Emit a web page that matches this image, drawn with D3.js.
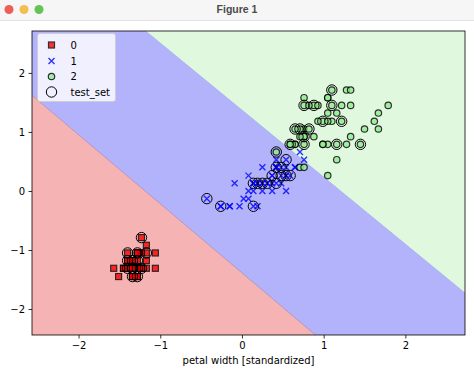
<!DOCTYPE html>
<html>
<head>
<meta charset="utf-8">
<script src="https://cdn.jsdelivr.net/npm/d3@7"></script>
<style>
  body { margin: 0; background: #fff; }
  text { font-family: "DejaVu Sans", sans-serif; }
</style>
</head>
<body>
<svg id="chart"></svg>
<script>
// standardized [x, y] per class
const setosa = [
  [-1.34,-1.31],[-1.34,-1.31],[-1.40,-1.31],[-1.28,-1.31],[-1.34,-1.31],
  [-1.17,-1.05],[-1.34,-1.18],[-1.28,-1.31],[-1.34,-1.31],[-1.28,-1.45],
  [-1.28,-1.31],[-1.23,-1.31],[-1.34,-1.45],[-1.51,-1.45],[-1.45,-1.31],
  [-1.28,-1.05],[-1.40,-1.05],[-1.34,-1.18],[-1.17,-1.18],[-1.28,-1.18],
  [-1.17,-1.31],[-1.28,-1.05],[-1.57,-1.31],[-1.17,-0.92],[-1.06,-1.31],
  [-1.23,-1.31],[-1.23,-1.05],[-1.28,-1.31],[-1.34,-1.31],[-1.23,-1.31],
  [-1.23,-1.31],[-1.28,-1.05],[-1.28,-1.45],[-1.34,-1.31],[-1.28,-1.31],
  [-1.45,-1.31],[-1.40,-1.31],[-1.34,-1.45],[-1.40,-1.31],[-1.28,-1.31],
  [-1.40,-1.18],[-1.40,-1.18],[-1.40,-1.31],[-1.23,-0.79],[-1.06,-1.05],
  [-1.34,-1.18],[-1.23,-1.31],[-1.34,-1.31],[-1.28,-1.31],[-1.34,-1.31]
];
const versicolor = [
  [0.54,0.26],[0.42,0.40],[0.65,0.40],[0.14,0.13],[0.48,0.40],
  [0.42,0.13],[0.54,0.53],[-0.26,-0.26],[0.48,0.13],[0.08,0.26],
  [-0.15,-0.26],[0.25,0.40],[0.14,-0.26],[0.54,0.26],[-0.09,0.13],
  [0.37,0.26],[0.42,0.40],[0.19,-0.26],[0.42,0.40],[0.08,-0.13],
  [0.59,0.79],[0.14,0.13],[0.65,0.40],[0.54,0.00],[0.31,0.13],
  [0.37,0.26],[0.59,0.26],[0.71,0.66],[0.42,0.40],[-0.15,-0.26],
  [0.02,-0.13],[-0.03,-0.26],[0.08,0.00],[0.76,0.53],[0.42,0.40],
  [0.42,0.53],[0.54,0.40],[0.37,0.13],[0.19,0.13],[0.14,0.13],
  [0.37,0.00],[0.48,0.26],[0.14,0.00],[-0.26,-0.26],[0.25,0.13],
  [0.25,0.00],[0.25,0.13],[0.31,0.13],[-0.43,-0.13],[0.19,0.13]
];
const virginica = [
  [1.28,1.71],[0.76,0.92],[1.22,1.18],[1.05,0.79],[1.16,1.32],
  [1.62,1.18],[0.42,0.66],[1.45,0.79],[1.16,0.79],[1.33,1.71],
  [0.76,1.05],[0.88,0.92],[0.99,1.18],[0.71,1.05],[0.76,1.58],
  [0.88,1.45],[0.99,0.79],[1.67,1.32],[1.79,1.45],[0.71,0.40],
  [1.10,1.45],[0.65,1.05],[1.67,1.05],[0.65,0.79],[1.10,1.18],
  [1.28,0.79],[0.59,0.79],[0.65,0.79],[1.05,1.18],[1.16,0.53],
  [1.33,0.92],[1.50,1.05],[1.05,1.32],[0.76,0.40],[1.05,0.26],
  [1.33,1.45],[1.05,1.58],[0.99,0.79],[0.59,0.79],[0.93,1.18],
  [1.05,1.58],[0.76,1.45],[0.76,0.92],[1.22,1.45],[1.10,1.71],
  [0.82,1.45],[0.71,0.92],[0.82,1.05],[0.93,1.45],[0.76,0.79]
];
const testSet = [
  [-1.23,-0.79],[-1.40,-1.05],[-1.28,-1.05],[-1.17,-1.05],[-1.34,-1.18],
  [-1.40,-1.18],[-1.34,-1.31],[-1.34,-1.31],[-1.28,-1.31],[-1.40,-1.31],
  [-1.34,-1.45],[-1.28,-1.45],[-1.23,-1.31],[-1.28,-1.18],[-1.34,-1.31],
  [-0.43,-0.13],[-0.26,-0.26],[0.14,-0.26],[0.14,0.13],[0.19,0.13],
  [0.25,0.13],[0.31,0.13],[0.37,0.26],[0.42,0.40],[0.48,0.40],
  [0.54,0.53],[0.48,0.26],[0.54,0.26],[0.59,0.26],[0.42,0.13],
  [0.42,0.66],[1.10,1.71],[0.76,1.45],[0.88,1.45],[1.10,1.45],
  [0.99,1.18],[1.22,1.18],[0.65,1.05],[0.71,1.05],[0.82,1.05],
  [0.76,0.92],[0.59,0.79],[0.76,0.79],[1.16,0.79],[1.45,0.79]
];

// decision boundaries (end points where they leave the plot)
const boundary01 = [[-2.57, 1.62], [0.90, -2.44]];
const boundary12 = [[-1.18, 2.71], [2.73, -1.73]];

const xDomain = [-2.57, 2.73];
const yDomain = [-2.44, 2.71];
const xTicks = [-2, -1, 0, 1, 2];
const yTicks = [-2, -1, 0, 1, 2];
const legendLabels = ["0", "1", "2", "test_set"];

const W = 474, H = 373;
const plot = { left: 32, right: 465, top: 31, bottom: 335 };

const svg = d3.select("#chart").attr("width", W).attr("height", H);

// window title bar
svg.append("rect").attr("width", W).attr("height", 21).attr("fill", "#f6f6f6");
svg.append("line").attr("x1", 0).attr("x2", W).attr("y1", 20.5).attr("y2", 20.5)
  .attr("stroke", "#e2e2e2");
[["#ee5d56", 9], ["#f4bd4f", 24], ["#62c454", 39]].forEach(([c, cx]) => {
  svg.append("circle").attr("cx", cx).attr("cy", 9.5).attr("r", 4.5).attr("fill", c);
});
svg.append("text").attr("x", W / 2).attr("y", 13).attr("text-anchor", "middle")
  .style("font-family", "'Liberation Sans', Arial, sans-serif")
  .style("font-size", "10.5px").style("font-weight", "bold").attr("fill", "#4b4b4b")
  .text("Figure 1");

const x = d3.scaleLinear().domain(xDomain).range([plot.left, plot.right]);
const y = d3.scaleLinear().domain(yDomain).range([plot.bottom, plot.top]);

const g = svg.append("g");

// decision regions
g.append("rect")
  .attr("x", plot.left).attr("y", plot.top)
  .attr("width", plot.right - plot.left).attr("height", plot.bottom - plot.top)
  .attr("fill", "#b3b3fc");

const line = d3.line().x(d => x(d[0])).y(d => y(d[1]));

g.append("path")
  .attr("d", line([[xDomain[0], yDomain[0]], boundary01[0], boundary01[1]]) + "Z")
  .attr("fill", "#f6b3b3");
g.append("path")
  .attr("d", line([boundary12[0], [xDomain[1], yDomain[1]], boundary12[1]]) + "Z")
  .attr("fill", "#dff8de");
g.append("path").attr("d", line(boundary01)).attr("fill", "none")
  .attr("stroke", "#a98fbf").attr("stroke-width", 0.8);
g.append("path").attr("d", line(boundary12)).attr("fill", "none")
  .attr("stroke", "#a7b3ea").attr("stroke-width", 0.8);

// class 0: red squares
g.selectAll(".c0").data(setosa).enter().append("rect")
  .attr("class", "c0")
  .attr("x", d => x(d[0]) - 3).attr("y", d => y(d[1]) - 3)
  .attr("width", 6).attr("height", 6)
  .attr("fill", "red").attr("stroke", "black").attr("stroke-width", 1.2)
  .attr("opacity", 0.8);

// class 1: blue crosses
g.selectAll(".c1").data(versicolor).enter().append("path")
  .attr("class", "c1")
  .attr("d", d => {
    const cx = x(d[0]), cy = y(d[1]);
    return `M${cx - 3},${cy - 3}L${cx + 3},${cy + 3}M${cx - 3},${cy + 3}L${cx + 3},${cy - 3}`;
  })
  .attr("stroke", "blue").attr("stroke-width", 1.4).attr("fill", "none")
  .attr("opacity", 0.8);

// class 2: light green circles
g.selectAll(".c2").data(virginica).enter().append("circle")
  .attr("class", "c2")
  .attr("cx", d => x(d[0])).attr("cy", d => y(d[1])).attr("r", 3.2)
  .attr("fill", "lightgreen").attr("stroke", "black").attr("stroke-width", 1.2)
  .attr("opacity", 0.8);

// test set rings
g.selectAll(".test").data(testSet).enter().append("circle")
  .attr("class", "test")
  .attr("cx", d => x(d[0])).attr("cy", d => y(d[1])).attr("r", 5.2)
  .attr("fill", "none").attr("stroke", "black").attr("stroke-width", 1);

// axes
const fmt = d => (d < 0 ? "\u2212" + Math.abs(d) : d);
const xAxis = svg.append("g")
  .attr("transform", `translate(0,${plot.bottom})`)
  .call(d3.axisBottom(x).tickValues(xTicks).tickFormat(fmt).tickSize(3.5).tickPadding(3.5));
const yAxis = svg.append("g")
  .attr("transform", `translate(${plot.left},0)`)
  .call(d3.axisLeft(y).tickValues(yTicks).tickFormat(fmt).tickSize(3.5).tickPadding(3.5));
[xAxis, yAxis].forEach(a => {
  a.select(".domain").remove();
  a.selectAll("line").attr("stroke", "#000").attr("stroke-width", 0.8);
  a.selectAll("text").attr("fill", "#000").style("font-size", "10px")
    .style("font-family", "'DejaVu Sans', sans-serif");
});

// spines
svg.append("rect")
  .attr("x", plot.left).attr("y", plot.top)
  .attr("width", plot.right - plot.left).attr("height", plot.bottom - plot.top)
  .attr("fill", "none").attr("stroke", "#000").attr("stroke-width", 0.8);

svg.append("text")
  .attr("x", (plot.left + plot.right) / 2).attr("y", 363.5)
  .attr("text-anchor", "middle").style("font-size", "10px")
  .text("petal width [standardized]");

// legend
const legend = svg.append("g");
legend.append("rect")
  .attr("x", 37.5).attr("y", 33.5).attr("width", 78).attr("height", 68)
  .attr("rx", 2.5)
  .attr("fill", "white").attr("fill-opacity", 0.8)
  .attr("stroke", "#cccccc").attr("stroke-width", 0.8);

const rowY = [45, 61, 76.5, 92];
const mx = 51.5;
legend.append("rect").attr("x", mx - 3).attr("y", rowY[0] - 3).attr("width", 6).attr("height", 6)
  .attr("fill", "red").attr("stroke", "black").attr("stroke-width", 1.2).attr("opacity", 0.8);
legend.append("path")
  .attr("d", `M${mx - 3},${rowY[1] - 3}L${mx + 3},${rowY[1] + 3}M${mx - 3},${rowY[1] + 3}L${mx + 3},${rowY[1] - 3}`)
  .attr("stroke", "blue").attr("stroke-width", 1.4).attr("opacity", 0.8);
legend.append("circle").attr("cx", mx).attr("cy", rowY[2]).attr("r", 3.2)
  .attr("fill", "lightgreen").attr("stroke", "black").attr("stroke-width", 1.2).attr("opacity", 0.8);
legend.append("circle").attr("cx", mx).attr("cy", rowY[3]).attr("r", 5.2)
  .attr("fill", "none").attr("stroke", "black").attr("stroke-width", 1);

legend.selectAll(".lbl").data(legendLabels).enter().append("text")
  .attr("class", "lbl")
  .attr("x", 70.5).attr("y", (d, i) => rowY[i]).attr("dy", "0.35em")
  .style("font-size", "10px")
  .text(d => d);
</script>
</body>
</html>
